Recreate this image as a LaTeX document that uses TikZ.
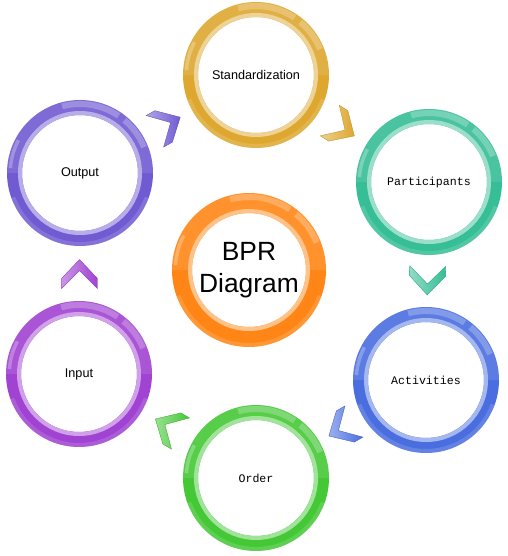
\documentclass[tikz,border=0pt]{standalone}
\usepackage{fontspec}
\setmainfont{Liberation Sans}
\newfontfamily\monofnt{Liberation Mono}
\usetikzlibrary{calc}

\definecolor{stdgold}{HTML}{DEA830}
\definecolor{partteal}{HTML}{36BE96}
\definecolor{actblue}{HTML}{4A6EE0}
\definecolor{ordgreen}{HTML}{44C836}
\definecolor{inpurple}{HTML}{A042D2}
\definecolor{outviolet}{HTML}{715BD2}
\definecolor{bprorange}{HTML}{FF8616}

\begin{document}
\begin{tikzpicture}[
  x=0.02cm, y=-0.02cm,
  font=\fontsize{7.2}{8.6}\selectfont,
  ring/.style={circle, draw=#1, fill=white, line width=0.30cm, minimum size=2.62cm, inner sep=0pt, align=center},
  bigring/.style={ring=#1, line width=0.40cm, minimum size=2.68cm, font=\fontsize{15}{18}\selectfont},
  monolabel/.style={font=\monofnt\fontsize{6.6}{8}\selectfont},
  pics/chevron/.style={code={
    \shade[left color=#1!55!white, right color=#1, draw=#1!85!black, line width=0.2pt]
      (14,0) -- (-5,18) -- (-15,18) -- (3,0) -- (-15,-18) -- (-5,-18) -- cycle;
  }}
]
  \useasboundingbox (0,0) rectangle (508,556);

  % rings
  \node[ring=stdgold] (std) at (256,75) {Standardization};
  \node[ring=partteal, monolabel] (part) at (429,182) {Participants};
  \node[ring=actblue, monolabel] (act) at (426,380) {Activities};
  \node[ring=ordgreen, monolabel] (ord) at (256,478) {Order};
  \node[ring=inpurple] (inp) at (79,374) {Input};
  \node[ring=outviolet] (outp) at (80,173) {Output};
  \node[bigring=bprorange] (bpr) at (249,270) {BPR\\Diagram};

  % glossy look on the rings
  \foreach \n/\c/\ro/\ri in {std/stdgold/1.46/1.16, part/partteal/1.46/1.16,
      act/actblue/1.46/1.16, ord/ordgreen/1.46/1.16, inp/inpurple/1.46/1.16,
      outp/outviolet/1.46/1.16, bpr/bprorange/1.54/1.14}{
    \fill[white, opacity=0.10] ($(\n)+(0:\ro cm)$) arc[start angle=0, end angle=180, radius=\ro cm]
      -- ($(\n)+(180:\ri cm)$) arc[start angle=180, end angle=0, radius=\ri cm] -- cycle;
    \fill[white, opacity=0.24] ($(\n)+(22:\ro cm-0.02cm)$) arc[start angle=22, end angle=50, radius=\ro cm-0.02cm]
      -- ($(\n)+(50:\ro cm-0.14cm)$) arc[start angle=50, end angle=22, radius=\ro cm-0.14cm] -- cycle;
    \fill[white, opacity=0.24] ($(\n)+(56:\ro cm-0.02cm)$) arc[start angle=56, end angle=105, radius=\ro cm-0.02cm]
      -- ($(\n)+(105:\ro cm-0.14cm)$) arc[start angle=105, end angle=56, radius=\ro cm-0.14cm] -- cycle;
    \fill[white, opacity=0.26] ($(\n)+(152:\ro cm-0.03cm)$) arc[start angle=152, end angle=176, radius=\ro cm-0.03cm]
      -- ($(\n)+(176:\ro cm-0.10cm)$) arc[start angle=176, end angle=152, radius=\ro cm-0.10cm] -- cycle;
    \draw[white, opacity=0.14, line width=0.08cm] ($(\n)+(200:\ro cm-0.04cm)$) arc[start angle=200, end angle=340, radius=\ro cm-0.04cm];
    \draw[\c!50!white, line width=0.08cm] (\n) circle[radius=\ri cm+0.04cm];
  }

  % chevrons between rings
  \pic[rotate=-32] at ($(std)!0.5!(part)$) {chevron=stdgold};
  \pic[rotate=-91] at ($(part)!0.5!(act)$) {chevron=partteal};
  \pic[rotate=-150] at ($(act)!0.5!(ord)$) {chevron=actblue};
  \pic[rotate=150] at ($(ord)!0.5!(inp)$) {chevron=ordgreen};
  \pic[rotate=90] at ($(inp)!0.5!(outp)$) {chevron=inpurple};
  \pic[rotate=29] at ($(outp)!0.5!(std)$) {chevron=outviolet};
\end{tikzpicture}
\end{document}
